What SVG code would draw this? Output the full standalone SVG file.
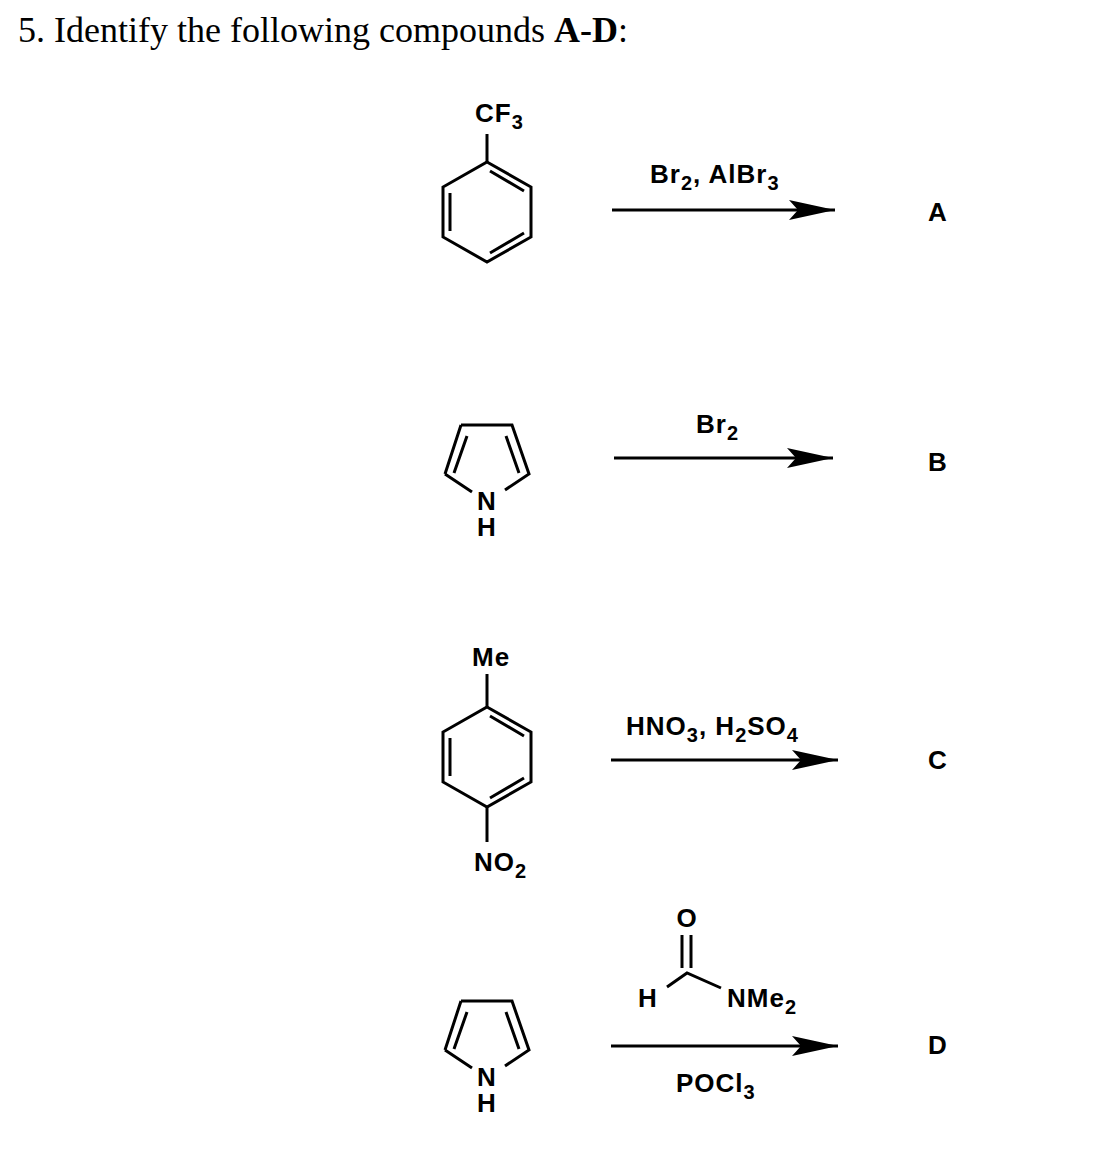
<svg xmlns="http://www.w3.org/2000/svg" width="1106" height="1152" viewBox="0 0 1106 1152">
<style>
.b{stroke:#000;stroke-width:3;fill:none;stroke-linecap:butt;stroke-linejoin:miter}
.t{font-family:"Liberation Sans",Arial,sans-serif;font-weight:bold;font-size:26px;letter-spacing:1px;fill:#000}
.s{font-size:20px}
.ttl{font-family:"Liberation Serif","Times New Roman",serif;font-size:36px;fill:#000}
</style>
<defs>
<marker id="ah" markerUnits="userSpaceOnUse" markerWidth="50" markerHeight="26" refX="46" refY="13" orient="auto">
<path d="M0,3 L46,13 L0,23 L9,13 Z" fill="#000"/>
</marker>
<g id="benz">
<path class="b" d="M0,0 L44,25 L44,75 L0,100 L-44,75 L-44,25 Z"/>
<path class="b" d="M3,9 L37,29 M-37,31 L-37,69 M3,91 L37,71"/>
</g>
<g id="pyr">
<path class="b" d="M-26,0 L25,0 L42,49 L18,65 M-15,67 L-42,49 Z"/>
<path class="b" d="M-26,0 L-42,49 M-20,11 L-33,48 M19,11 L32,48"/>
<text class="t" x="0" y="85" text-anchor="middle">N</text>
<text class="t" x="0" y="111" text-anchor="middle">H</text>
</g>
</defs>
<text class="ttl" x="18" y="42">5. Identify the following compounds <tspan font-weight="bold">A-D</tspan>:</text>
<g id="m1">
<text class="t" x="475" y="122">CF<tspan class="s" dy="7">3</tspan></text>
<line class="b" x1="487" y1="134" x2="487" y2="162"/>
<use href="#benz" x="487" y="162"/>
</g>
<g id="m2"><use href="#pyr" x="487" y="425"/></g>
<g id="m3">
<text class="t" x="472" y="666">Me</text>
<line class="b" x1="487" y1="674" x2="487" y2="707"/>
<use href="#benz" x="487" y="707"/>
<line class="b" x1="487" y1="807" x2="487" y2="842"/>
<text class="t" x="474" y="871">NO<tspan class="s" dy="7">2</tspan></text>
</g>
<g id="m4"><use href="#pyr" x="487" y="1001"/></g>
<g id="dmf">
<text class="t" x="687" y="927" text-anchor="middle">O</text>
<line class="b" x1="682" y1="935" x2="682" y2="968"/>
<line class="b" x1="691" y1="935" x2="691" y2="968"/>
<path class="b" d="M667,987 L687,973 L721,988"/>
<text class="t" x="648" y="1007" text-anchor="middle">H</text>
<text class="t" x="727" y="1007">NMe<tspan class="s" dy="7">2</tspan></text>
</g>
<g id="connectors">
<line class="b" x1="612" y1="210" x2="835" y2="210" marker-end="url(#ah)"/>
<line class="b" x1="614" y1="458" x2="833" y2="458" marker-end="url(#ah)"/>
<line class="b" x1="611" y1="760" x2="838" y2="760" marker-end="url(#ah)"/>
<line class="b" x1="611" y1="1046" x2="838" y2="1046" marker-end="url(#ah)"/>
</g>
<g id="labels">
<text class="t" x="650" y="183">Br<tspan class="s" dy="7">2</tspan><tspan dy="-7">, AlBr</tspan><tspan class="s" dy="7">3</tspan></text>
<text class="t" x="696" y="433">Br<tspan class="s" dy="7">2</tspan></text>
<text class="t" x="626" y="735">HNO<tspan class="s" dy="7">3</tspan><tspan dy="-7">, H</tspan><tspan class="s" dy="7">2</tspan><tspan dy="-7">SO</tspan><tspan class="s" dy="7">4</tspan></text>
<text class="t" x="676" y="1092">POCl<tspan class="s" dy="7">3</tspan></text>
<text class="t" x="938" y="221" text-anchor="middle">A</text>
<text class="t" x="938" y="471" text-anchor="middle">B</text>
<text class="t" x="938" y="769" text-anchor="middle">C</text>
<text class="t" x="938" y="1054" text-anchor="middle">D</text>
</g>
</svg>
